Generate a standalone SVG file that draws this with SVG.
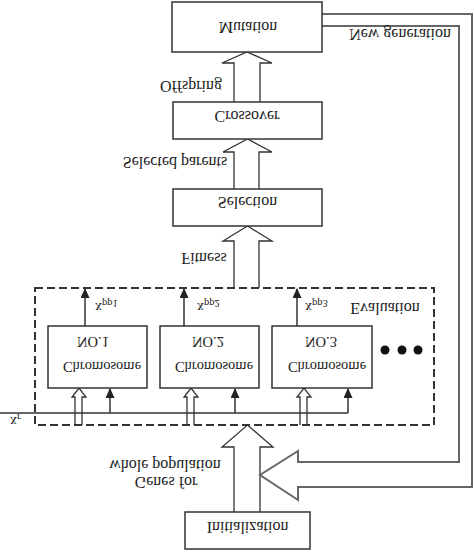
<svg xmlns="http://www.w3.org/2000/svg" width="474" height="552" viewBox="0 0 474 552">
<defs>
<style>
.box{fill:#fff;stroke:#333;stroke-width:1.5}
.ln{fill:none;stroke:#333;stroke-width:1.5}
.fb{fill:none;stroke:#666;stroke-width:2}
.hol{fill:#fff;stroke:#333;stroke-width:1.3}
.t{font-family:"Liberation Serif",serif;font-size:16px;fill:#222;text-anchor:middle}
.s{font-family:"Liberation Serif",serif;font-size:14.5px;fill:#222;text-anchor:middle}
.v{font-family:"Liberation Serif",serif;font-size:14px;fill:#222}
.dash{fill:none;stroke:#333;stroke-width:2;stroke-dasharray:8 4}
</style>
<marker id="ah" viewBox="0 0 10 10" refX="9" refY="5" markerWidth="10" markerHeight="9" markerUnits="userSpaceOnUse" orient="auto" preserveAspectRatio="none">
<path d="M0,0 L10,5 L0,10 Z" fill="#222"/>
</marker>
</defs>

<g id="connectors">
<path class="hol" d="M234,102 L234,63 L222,63 L247,52 L272,63 L260,63 L260,102"/>
<path class="hol" d="M234,189 L234,152 L223,152 L247.5,139 L272,152 L259,152 L259,189"/>
<path class="hol" d="M234,288 L234,241 L223,241 L247.5,226 L272,241 L259,241 L259,288"/>
<path class="hol" d="M234,512 L234,447 L222,447 L247.5,425 L273,447 L260,447 L260,512"/>
<path class="hol" d="M75,425 L75,397 L72,397 L79,388 L86,397 L82,397 L82,425"/>
<path class="hol" d="M187,425 L187,397 L184,397 L191,388 L198,397 L194,397 L194,425"/>
<path class="hol" d="M300,425 L300,397 L297,397 L304,388 L311,397 L307,397 L307,425"/>
<path class="ln" d="M0,413 L348,413"/>
<path class="ln" d="M110,413 L110,389" marker-end="url(#ah)" stroke-width="2"/>
<path class="ln" d="M235,413 L235,389" marker-end="url(#ah)" stroke-width="2"/>
<path class="ln" d="M348,413 L348,389" marker-end="url(#ah)" stroke-width="2"/>
<path class="ln" d="M85,326 L85,289" marker-end="url(#ah)" stroke-width="2"/>
<path class="ln" d="M184,326 L184,289" marker-end="url(#ah)" stroke-width="2"/>
<path class="ln" d="M297,326 L297,289" marker-end="url(#ah)" stroke-width="2"/>
<path class="fb" d="M322,14 L472,14 L472,487 L298,487 L298,500 L260,475 L298,451 L298,462 L459,462 L459,26 L322,26"/>
</g>

<g id="mutation"><rect class="box" x="172" y="2" width="150" height="50"/>
<text class="t" transform="translate(248,22) scale(1,-1)">Mutation</text></g>
<g id="crossover"><rect class="box" x="173" y="102" width="149" height="37"/>
<text class="t" transform="translate(247,111) scale(1,-1)">Crossover</text></g>
<g id="selection"><rect class="box" x="173" y="189" width="149" height="37"/>
<text class="t" transform="translate(247.5,197) scale(1,-1)">Selection</text></g>
<g id="evaluation"><rect class="dash" x="35" y="288" width="399" height="137"/>
<text class="t" transform="translate(385,303) scale(1,-1)">Evaluation</text></g>
<g id="chromosome1"><rect class="box" x="48" y="326" width="99" height="62"/>
<text class="s" transform="translate(93,337) scale(1,-1)">NO.1</text>
<text class="s" transform="translate(102,362) scale(1,-1)">Chromosome</text></g>
<g id="chromosome2"><rect class="box" x="160" y="326" width="99" height="62"/>
<text class="s" transform="translate(208,337) scale(1,-1)">NO.2</text>
<text class="s" transform="translate(214,362) scale(1,-1)">Chromosome</text></g>
<g id="chromosome3"><rect class="box" x="272" y="326" width="100" height="62"/>
<text class="s" transform="translate(321,337) scale(1,-1)">NO.3</text>
<text class="s" transform="translate(327,362) scale(1,-1)">Chromosome</text></g>
<g id="dots"><circle cx="385" cy="350" r="4.5" fill="#111"/><circle cx="402" cy="350" r="4.5" fill="#111"/><circle cx="418" cy="350" r="4.5" fill="#111"/></g>
<g id="initialization"><rect class="box" x="185" y="512" width="125" height="37"/>
<text class="t" transform="translate(247.5,522) scale(1,-1)">Initialization</text></g>

<g id="labels">
<text class="t" transform="translate(191,81) scale(1,-1)">Offspring</text>
<text class="t" transform="translate(175,157) scale(1,-1)">Selected parents</text>
<text class="t" transform="translate(204,253) scale(1,-1)">Fitness</text>
<text class="t" transform="translate(400,29) scale(1,-1)" font-size="16.5px">New generation</text>
<text class="t" transform="translate(165,460) scale(1,-1)">whole population</text>
<text class="t" transform="translate(166,477) scale(1,-1)">Genes for</text>
<text class="v" transform="translate(95,303) scale(1,-1)">x<tspan dy="3" font-size="10.5">pp1</tspan></text>
<text class="v" transform="translate(197,303) scale(1,-1)">x<tspan dy="3" font-size="10.5">pp2</tspan></text>
<text class="v" transform="translate(305,303) scale(1,-1)">x<tspan dy="3" font-size="10.5">pp3</tspan></text>
<text class="v" transform="translate(10,417) scale(1,-1)">x<tspan dy="3" font-size="10.5">r</tspan></text>
</g>
</svg>
